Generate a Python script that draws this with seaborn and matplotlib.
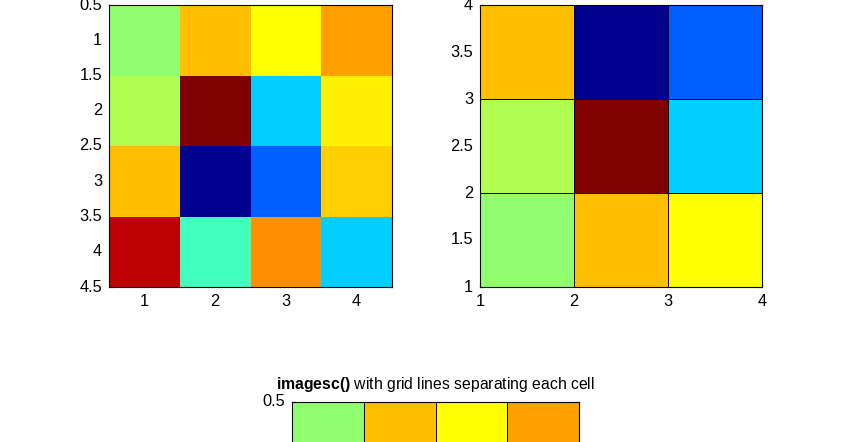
import numpy as np
import pandas as pd
import matplotlib
matplotlib.use("Agg")
import matplotlib.pyplot as plt
import seaborn as sns
from matplotlib.colors import ListedColormap

row1 = [0.51, 0.68, 0.62, 0.71]
row2 = [0.54, 1.00, 0.32, 0.63]
row3 = [0.68, 0.00, 0.21, 0.66]
row4 = [0.93, 0.43, 0.73, 0.32]
col_labels = ["1", "2", "3", "4"]
left_yticks = ["0.5", "1", "1.5", "2", "2.5", "3", "3.5", "4", "4.5"]
right_xticks = ["1", "2", "3", "4"]
right_yticks = ["1", "1.5", "2", "2.5", "3", "3.5", "4"]
title_text = r"$\mathbf{imagesc()}$ with grid lines separating each cell"


def matlab_jet(m=64):
    # same construction as MATLAB's jet(m)
    n = int(np.ceil(m / 4))
    u = np.concatenate([np.arange(1, n + 1) / n, np.ones(n - 1), np.arange(n, 0, -1) / n])
    g = int(np.ceil(n / 2)) - int(m % 4 == 1) + np.arange(1, len(u) + 1)
    r = g + n
    b = g - n
    g = g[g <= m]
    r = r[r <= m]
    b = b[b >= 1]
    J = np.zeros((m, 3))
    J[r - 1, 0] = u[:len(r)]
    J[g - 1, 1] = u[:len(g)]
    J[b - 1, 2] = u[len(u) - len(b):]
    return ListedColormap(J)


sns.set_style("ticks")
plt.rcParams["font.family"] = ["Liberation Sans", "DejaVu Sans"]
plt.rcParams["text.color"] = "black"
plt.rcParams["mathtext.fontset"] = "custom"
plt.rcParams["mathtext.rm"] = "Liberation Sans"
plt.rcParams["mathtext.bf"] = "Liberation Sans:bold"

df = pd.DataFrame([row1, row2, row3, row4], columns=col_labels)
jet = matlab_jet(64)
vmin, vmax = df.values.min(), df.values.max()

W, H = 842, 442
fig = plt.figure(figsize=(W / 100, H / 100), dpi=100)


def box_axes(ax):
    for s in ax.spines.values():
        s.set_visible(True)
        s.set_color("black")
        s.set_linewidth(0.8)
    ax.tick_params(direction="in", top=True, right=True, length=3,
                   width=0.8, labelsize=11.8, pad=5, colors="black")
    ax.set_xlabel("")
    ax.set_ylabel("")


# left: imagesc
ax1 = fig.add_axes([109 / W, 1 - 287 / H, 283 / W, 282 / H])
sns.heatmap(df, cmap=jet, vmin=vmin, vmax=vmax, cbar=False, ax=ax1)
ax1.set_xlim(0, 4)
ax1.set_ylim(4, 0)
ax1.set_xticks(np.arange(4) + 0.5)
ax1.set_xticklabels(col_labels, rotation=0)
ax1.set_yticks(np.arange(0, 4.01, 0.5))
ax1.set_yticklabels(left_yticks, rotation=0)
box_axes(ax1)

# right: pcolor (drops last row and column), edges in black
ax2 = fig.add_axes([480 / W, 1 - 287 / H, 282 / W, 282 / H])
sns.heatmap(df.iloc[:3, :3], cmap=jet, vmin=vmin, vmax=vmax, cbar=False,
            linewidths=0.7, linecolor="black", ax=ax2)
ax2.set_xlim(0, 3)
ax2.set_ylim(0, 3)
ax2.set_xticks(np.arange(4))
ax2.set_xticklabels(right_xticks, rotation=0)
ax2.set_yticks(np.arange(0, 3.01, 0.5))
ax2.set_yticklabels(right_yticks, rotation=0)
box_axes(ax2)

# bottom: imagesc with grid lines (runs off the bottom of the figure,
# so only the top tick label can be seen)
ax3 = fig.add_axes([292 / W, 1 - (402 + 400) / H, 287 / W, 400 / H])
sns.heatmap(df, cmap=jet, vmin=vmin, vmax=vmax, cbar=False,
            linewidths=0.7, linecolor="black", ax=ax3)
ax3.set_xlim(0, 4)
ax3.set_ylim(4, 0)
ax3.set_xticks(np.arange(4) + 0.5)
ax3.set_xticklabels([])
ax3.set_yticks([0])
ax3.set_yticklabels(left_yticks[:1], rotation=0)
box_axes(ax3)
ax3.tick_params(bottom=False, top=False)
ax3.set_title(title_text, fontsize=11.3, pad=9)

fig.savefig("out.png", dpi=100, facecolor="white")
